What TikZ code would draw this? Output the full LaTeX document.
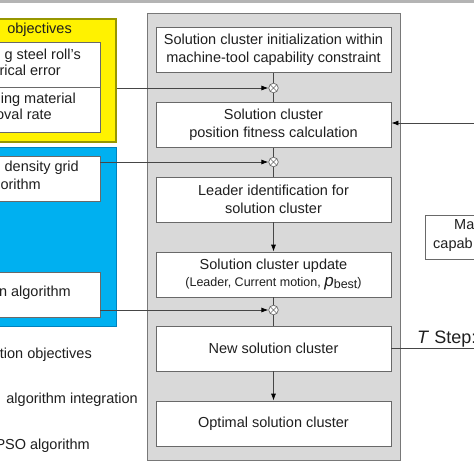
\documentclass[tikz,border=0pt]{standalone}
\usepackage{fontspec}
\setmainfont{Liberation Sans}
\usetikzlibrary{arrows.meta}
\definecolor{panelgray}{RGB}{217,217,217}
\definecolor{paneledge}{RGB}{120,120,120}
\definecolor{edgegray}{RGB}{105,105,105}
\definecolor{linegray}{RGB}{70,70,70}
\definecolor{cyanblue}{RGB}{0,176,240}
\definecolor{cyanedge}{RGB}{0,130,190}
\definecolor{yellowedge}{RGB}{150,150,0}
\definecolor{topstrip}{RGB}{180,180,180}
\begin{document}
\begin{tikzpicture}[x=1pt,y=-1pt,
  txt/.style={font=\fontsize{14.5}{18}\selectfont, inner sep=0pt, text=black!88},
  stepbox/.style={draw=edgegray, fill=white, line width=0.8pt, minimum width=235pt,
    minimum height=45pt, align=center, inner sep=0pt, font=\fontsize{14.5}{18}\selectfont, text=black!88},
  sidebox/.style={draw=edgegray, fill=white, line width=0.8pt, minimum width=105pt,
    minimum height=45pt, inner sep=0pt},
  otimes/.style={circle, draw=edgegray, fill=white, line width=0.7pt, minimum size=9.5pt, inner sep=0pt,
    path picture={\draw[edgegray, line width=0.6pt]
      (path picture bounding box.north west) -- (path picture bounding box.south east)
      (path picture bounding box.north east) -- (path picture bounding box.south west);}},
  conn/.style={draw=linegray, line width=0.8pt},
  arr/.style={conn, -{Latex[length=7pt,width=5pt,color=black]}}
]
\useasboundingbox (0,0) rectangle (474,474);
\clip (0,0) rectangle (474,474);
\fill[white] (0,0) rectangle (474,474);
\fill[topstrip] (0,0) rectangle (474,2.5);

% panels
\node[draw=paneledge, fill=panelgray, line width=0.9pt, minimum width=253pt, minimum height=447pt, inner sep=0pt] (main) at (273.5,236.5) {};
\node[draw=yellowedge, fill=yellow, line width=1.2pt, minimum width=126pt, minimum height=123pt, inner sep=0pt] (ypanel) at (53,80.5) {};
\node[draw=cyanedge, fill=cyanblue, line width=0.8pt, minimum width=126pt, minimum height=179pt, inner sep=0pt] (bpanel) at (53,236.5) {};

% left inner boxes
\node[sidebox] (ba) at (47.5,65) {};
\node[sidebox] (bb) at (47.5,109.5) {};
\node[sidebox] (bc) at (47.5,178.5) {};
\node[sidebox] (bd) at (47.5,295) {};

\node[txt, anchor=mid east] (ttitle) at (72,31) {objectives};
\node[txt, anchor=mid east] (ta1) at (81,57) {g steel roll’s};
\node[txt, anchor=mid east] (ta2) at (61,73) {rical error};
\node[txt, anchor=mid east] (tb1) at (76,101) {ing material};
\node[txt, anchor=mid east] (tb2) at (52,117) {oval rate};
\node[txt, anchor=mid east] (tc1) at (79,169) {density grid};
\node[txt, anchor=mid east] (tc2) at (41,187) {orithm};
\node[txt, anchor=mid east] (td1) at (71,294) {n algorithm};

% legend texts
\node[txt, anchor=mid east] (l1) at (92,356) {tion objectives};
\node[txt, anchor=mid east] (l2) at (138,401) {algorithm integration};
\node[txt, anchor=mid east] (l3) at (90,447) {PSO algorithm};

% main flow
\node[stepbox] (b1) at (273.5,50) {Solution cluster initialization within\\machine-tool capability constraint};
\node[otimes] (o1) at (273.5,88) {};
\node[stepbox] (b2) at (273.5,125) {Solution cluster\\position fitness calculation};
\node[otimes] (o2) at (273.5,162) {};
\node[stepbox] (b3) at (273.5,199.5) {Leader identification for\\solution cluster};
\node[stepbox] (b4) at (273.5,274.5) {Solution cluster update\\[-1pt]{\fontsize{12.5}{14}\selectfont (Leader, Current motion, {\fontsize{17}{17}\selectfont\itshape p}\raisebox{-2.5pt}{best})}};
\node[otimes] (o3) at (273.5,310) {};
\node[stepbox] (b5) at (273.5,348.5) {New solution cluster};
\node[stepbox] (b6) at (273.5,423.5) {Optimal solution cluster};

\draw[conn] (b1) -- (o1);
\draw[conn] (o1) -- (b2);
\draw[conn] (b2) -- (o2);
\draw[conn] (o2) -- (b3);
\draw[arr] (b3) -- (b4);
\draw[conn] (b4) -- (o3);
\draw[conn] (o3) -- (b5);
\draw[arr] (b5) -- (b6);

% inputs from the left
\draw[arr] (o1 -| ypanel.east) -- (o1);
\draw[arr] (o2 -| bc.east) -- (o2);
\draw[arr] (o3 -| bd.east) -- (o3);

% right side
\node[draw=edgegray, fill=white, line width=0.8pt, minimum width=60pt, minimum height=44pt, inner sep=0pt] (mbox) at (455,237) {};
\node[txt, anchor=mid west] (m1) at (454,227) {Ma};
\node[txt, anchor=mid west] (m2) at (433,246) {capab};
\coordinate (rin) at (474,123);
\draw[arr] (rin) -- (rin -| b2.east);
\coordinate (rout) at (474,348.5);
\draw[conn] (b5.east) -- (rout);
\node[anchor=base west, inner sep=0pt, font=\fontsize{18}{20}\selectfont, text=black!88] (tstep) at (417,343) {\textit{T} Step:};
\end{tikzpicture}
\end{document}
